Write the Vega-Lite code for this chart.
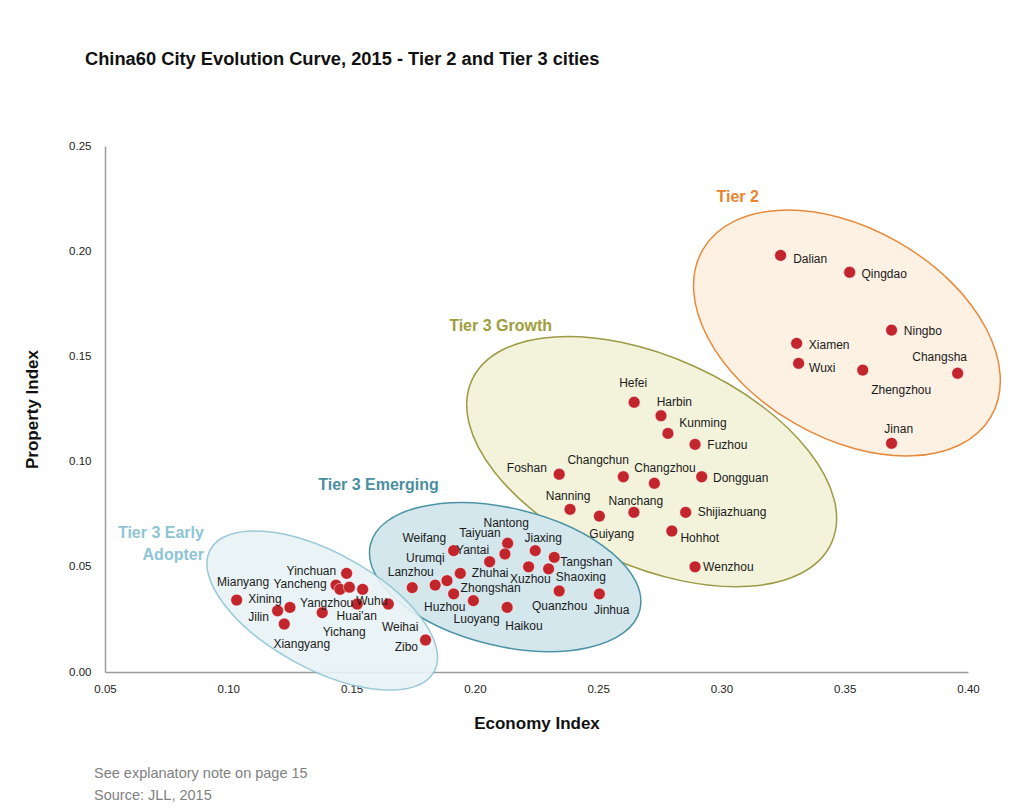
{
  "$schema": "https://vega.github.io/schema/vega-lite/v6.json",
  "background": "white",
  "padding": {"left": 23, "top": 49, "right": 10, "bottom": 5},
  "title": {
    "text": "China60 City Evolution Curve, 2015 - Tier 2 and Tier 3 cities",
    "anchor": "start",
    "frame": "group",
    "dx": -20,
    "offset": 71,
    "fontSize": 18.3,
    "fontWeight": "bold",
    "color": "#111111",
    "font": "Liberation Sans"
  },
  "datasets": {
    "tiers": [
      {"tier": "Tier 2", "label": "Tier 2", "cx": 0.3509, "cy": 0.1611, "lx": 0.3152, "ly": 0.2256},
      {"tier": "Tier 3 Growth", "label": "Tier 3 Growth", "cx": 0.2717, "cy": 0.1000, "lx": 0.2313, "ly": 0.1644},
      {"tier": "Tier 3 Emerging", "label": "Tier 3 Emerging", "cx": 0.2123, "cy": 0.0451, "lx": 0.1854, "ly": 0.0889},
      {"tier": "Tier 3 Early Adopter", "label": "Tier 3 Early\nAdopter", "cx": 0.1381, "cy": 0.0292, "lx": 0.0901, "ly": 0.0662}
    ],
    "cities": [
      {"tier": "Tier 2", "city": "Dalian", "x": 0.324, "y": 0.198, "lx": 0.336, "ly": 0.1963},
      {"tier": "Tier 2", "city": "Qingdao", "x": 0.352, "y": 0.190, "lx": 0.366, "ly": 0.189},
      {"tier": "Tier 2", "city": "Ningbo", "x": 0.369, "y": 0.1625, "lx": 0.3817, "ly": 0.1621},
      {"tier": "Tier 2", "city": "Xiamen", "x": 0.3305, "y": 0.1562, "lx": 0.3437, "ly": 0.1554},
      {"tier": "Tier 2", "city": "Wuxi", "x": 0.3313, "y": 0.1467, "lx": 0.3409, "ly": 0.1446},
      {"tier": "Tier 2", "city": "Zhengzhou", "x": 0.3573, "y": 0.1435, "lx": 0.3729, "ly": 0.134},
      {"tier": "Tier 2", "city": "Changsha", "x": 0.3958, "y": 0.142, "lx": 0.3885, "ly": 0.1499},
      {"tier": "Tier 2", "city": "Jinan", "x": 0.369, "y": 0.1087, "lx": 0.3719, "ly": 0.1155},
      {"tier": "Tier 3 Growth", "city": "Hefei", "x": 0.2646, "y": 0.1282, "lx": 0.2642, "ly": 0.1375},
      {"tier": "Tier 3 Growth", "city": "Harbin", "x": 0.2755, "y": 0.1218, "lx": 0.2809, "ly": 0.1285},
      {"tier": "Tier 3 Growth", "city": "Kunming", "x": 0.2783, "y": 0.1134, "lx": 0.2925, "ly": 0.1182},
      {"tier": "Tier 3 Growth", "city": "Fuzhou", "x": 0.2893, "y": 0.1082, "lx": 0.3024, "ly": 0.1079},
      {"tier": "Tier 3 Growth", "city": "Foshan", "x": 0.2342, "y": 0.094, "lx": 0.2211, "ly": 0.0968},
      {"tier": "Tier 3 Growth", "city": "Changchun", "x": 0.2602, "y": 0.0928, "lx": 0.25, "ly": 0.1008},
      {"tier": "Tier 3 Growth", "city": "Changzhou", "x": 0.2728, "y": 0.0897, "lx": 0.2771, "ly": 0.0968},
      {"tier": "Tier 3 Growth", "city": "Dongguan", "x": 0.292, "y": 0.0928, "lx": 0.3078, "ly": 0.0921},
      {"tier": "Tier 3 Growth", "city": "Nanning", "x": 0.2386, "y": 0.0773, "lx": 0.2378, "ly": 0.0837},
      {"tier": "Tier 3 Growth", "city": "Guiyang", "x": 0.2505, "y": 0.0741, "lx": 0.2555, "ly": 0.0656},
      {"tier": "Tier 3 Growth", "city": "Nanchang", "x": 0.2645, "y": 0.0759, "lx": 0.2653, "ly": 0.0814},
      {"tier": "Tier 3 Growth", "city": "Shijiazhuang", "x": 0.2855, "y": 0.0759, "lx": 0.3043, "ly": 0.0759},
      {"tier": "Tier 3 Growth", "city": "Hohhot", "x": 0.2799, "y": 0.067, "lx": 0.2912, "ly": 0.0638},
      {"tier": "Tier 3 Growth", "city": "Wenzhou", "x": 0.2893, "y": 0.05, "lx": 0.3028, "ly": 0.05},
      {"tier": "Tier 3 Emerging", "city": "Nantong", "x": 0.2133, "y": 0.0612, "lx": 0.2127, "ly": 0.071},
      {"tier": "Tier 3 Emerging", "city": "Taiyuan", "x": 0.2122, "y": 0.0561, "lx": 0.2021, "ly": 0.0659},
      {"tier": "Tier 3 Emerging", "city": "Weifang", "x": 0.1914, "y": 0.0577, "lx": 0.1795, "ly": 0.0635},
      {"tier": "Tier 3 Emerging", "city": "Yantai", "x": 0.206, "y": 0.0524, "lx": 0.1991, "ly": 0.058},
      {"tier": "Tier 3 Emerging", "city": "Jiaxing", "x": 0.2245, "y": 0.0577, "lx": 0.2277, "ly": 0.0635},
      {"tier": "Tier 3 Emerging", "city": "Tangshan", "x": 0.2322, "y": 0.0545, "lx": 0.2452, "ly": 0.0521},
      {"tier": "Tier 3 Emerging", "city": "Xuzhou", "x": 0.2218, "y": 0.05, "lx": 0.2225, "ly": 0.0441},
      {"tier": "Tier 3 Emerging", "city": "Shaoxing", "x": 0.2299, "y": 0.049, "lx": 0.243, "ly": 0.045},
      {"tier": "Tier 3 Emerging", "city": "Zhuhai", "x": 0.1941, "y": 0.0469, "lx": 0.2062, "ly": 0.0472},
      {"tier": "Tier 3 Emerging", "city": "Urumqi", "x": 0.1887, "y": 0.0434, "lx": 0.1799, "ly": 0.0542},
      {"tier": "Tier 3 Emerging", "city": "Huzhou", "x": 0.1839, "y": 0.0413, "lx": 0.1878, "ly": 0.031},
      {"tier": "Tier 3 Emerging", "city": "Lanzhou", "x": 0.1746, "y": 0.0401, "lx": 0.174, "ly": 0.0477},
      {"tier": "Tier 3 Emerging", "city": "Zhongshan", "x": 0.1914, "y": 0.0371, "lx": 0.2064, "ly": 0.0398},
      {"tier": "Tier 3 Emerging", "city": "Luoyang", "x": 0.1994, "y": 0.0339, "lx": 0.2007, "ly": 0.025},
      {"tier": "Tier 3 Emerging", "city": "Haikou", "x": 0.2131, "y": 0.0307, "lx": 0.2199, "ly": 0.0219},
      {"tier": "Tier 3 Emerging", "city": "Quanzhou", "x": 0.2342, "y": 0.0385, "lx": 0.2344, "ly": 0.0314},
      {"tier": "Tier 3 Emerging", "city": "Jinhua", "x": 0.2505, "y": 0.0371, "lx": 0.2555, "ly": 0.0295},
      {"tier": "Tier 3 Early Adopter", "city": "Mianyang", "x": 0.1034, "y": 0.0342, "lx": 0.106, "ly": 0.0429},
      {"tier": "Tier 3 Early Adopter", "city": "Xining", "x": 0.125, "y": 0.0307, "lx": 0.1149, "ly": 0.0346},
      {"tier": "Tier 3 Early Adopter", "city": "Jilin", "x": 0.12, "y": 0.0291, "lx": 0.1123, "ly": 0.0263},
      {"tier": "Tier 3 Early Adopter", "city": "Xiangyang", "x": 0.1227, "y": 0.0228, "lx": 0.1298, "ly": 0.0133},
      {"tier": "Tier 3 Early Adopter", "city": "Yichang", "x": 0.1381, "y": 0.0282, "lx": 0.147, "ly": 0.0192},
      {"tier": "Tier 3 Early Adopter", "city": "Yinchuan", "x": 0.148, "y": 0.0469, "lx": 0.1337, "ly": 0.0481},
      {"tier": "Tier 3 Early Adopter", "city": "Yancheng", "x": 0.1437, "y": 0.0413, "lx": 0.1291, "ly": 0.0417},
      {"tier": "Tier 3 Early Adopter", "city": "", "x": 0.1453, "y": 0.0393, "lx": 0.1453, "ly": 0.0393},
      {"tier": "Tier 3 Early Adopter", "city": "Yangzhou", "x": 0.1491, "y": 0.0403, "lx": 0.1399, "ly": 0.0327},
      {"tier": "Tier 3 Early Adopter", "city": "Wuhu", "x": 0.1545, "y": 0.0393, "lx": 0.1582, "ly": 0.0339},
      {"tier": "Tier 3 Early Adopter", "city": "Huai'an", "x": 0.1523, "y": 0.0323, "lx": 0.1521, "ly": 0.0266},
      {"tier": "Tier 3 Early Adopter", "city": "Weihai", "x": 0.1649, "y": 0.0323, "lx": 0.1697, "ly": 0.0215},
      {"tier": "Tier 3 Early Adopter", "city": "Zibo", "x": 0.18, "y": 0.0152, "lx": 0.1722, "ly": 0.012}
    ]
  },
  "vconcat": [
    {
      "width": 863,
      "height": 526,
      "title": {
        "text": ["See explanatory note on page 15", "Source: JLL, 2015"],
        "orient": "bottom",
        "anchor": "start",
        "frame": "group",
        "dx": -11,
        "offset": 35,
        "fontSize": 14.5,
        "fontWeight": "normal",
        "color": "#808080",
        "lineHeight": 22,
        "font": "Liberation Sans"
      },
      "layer": [
        {
          "data": {"name": "tiers"},
          "transform": [{"filter": "datum.tier === 'Tier 2'"}],
          "mark": {"type": "point", "shape": "M -1 0 A 1 0.627 0 1 1 1 0 A 1 0.627 0 1 1 -1 0 Z", "size": 110920, "angle": 30, "filled": true, "fill": "#FDF1E4", "stroke": "#E8893A", "strokeWidth": 1.5, "opacity": 1},
          "encoding": {
            "x": {"field": "cx", "type": "quantitative", "title": "Economy Index", "scale": {"domain": [0.05, 0.4], "nice": false, "zero": false},
                  "axis": {"values": [0.05, 0.1, 0.15, 0.2, 0.25, 0.3, 0.35, 0.4], "format": ".2f", "labelPadding": 11, "titlePadding": 21, "labelFlush": false}},
            "y": {"field": "cy", "type": "quantitative", "title": "Property Index", "scale": {"domain": [0, 0.25], "nice": false, "zero": false},
                  "axis": {"values": [0, 0.05, 0.1, 0.15, 0.2, 0.25], "format": ".2f", "labelPadding": 14, "titlePadding": 27, "labelFlush": false}}
          }
        },
        {
          "data": {"name": "tiers"},
          "transform": [{"filter": "datum.tier === 'Tier 3 Growth'"}],
          "mark": {"type": "point", "shape": "M -1 0 A 1 0.529 0 1 1 1 0 A 1 0.529 0 1 1 -1 0 Z", "size": 155804, "angle": 24.3, "filled": true, "fill": "#F3F3DB", "stroke": "#9C9A45", "strokeWidth": 1.5, "opacity": 1},
          "encoding": {
            "x": {"field": "cx", "type": "quantitative", "title": "Economy Index", "scale": {"domain": [0.05, 0.4], "nice": false, "zero": false}},
            "y": {"field": "cy", "type": "quantitative", "title": "Property Index", "scale": {"domain": [0, 0.25], "nice": false, "zero": false}}
          }
        },
        {
          "data": {"name": "tiers"},
          "transform": [{"filter": "datum.tier === 'Tier 3 Emerging'"}],
          "mark": {"type": "point", "shape": "M -1 0 A 1 0.497 0 1 1 1 0 A 1 0.497 0 1 1 -1 0 Z", "size": 76844, "angle": 13.6, "filled": true, "fill": "#D4E7ED", "stroke": "#4C93A6", "strokeWidth": 1.5, "opacity": 1},
          "encoding": {
            "x": {"field": "cx", "type": "quantitative", "title": "Economy Index", "scale": {"domain": [0.05, 0.4], "nice": false, "zero": false}},
            "y": {"field": "cy", "type": "quantitative", "title": "Property Index", "scale": {"domain": [0, 0.25], "nice": false, "zero": false}}
          }
        },
        {
          "data": {"name": "tiers"},
          "transform": [{"filter": "datum.tier === 'Tier 3 Early Adopter'"}],
          "mark": {"type": "point", "shape": "M -1 0 A 1 0.456 0 1 1 1 0 A 1 0.456 0 1 1 -1 0 Z", "size": 64940, "angle": 28.6, "filled": true, "fill": "#E8F3F6", "stroke": "#8FC4D3", "strokeWidth": 1.5, "opacity": 0.9},
          "encoding": {
            "x": {"field": "cx", "type": "quantitative", "title": "Economy Index", "scale": {"domain": [0.05, 0.4], "nice": false, "zero": false}},
            "y": {"field": "cy", "type": "quantitative", "title": "Property Index", "scale": {"domain": [0, 0.25], "nice": false, "zero": false}}
          }
        },
        {
          "data": {"name": "cities"},
          "mark": {"type": "circle", "size": 140, "color": "#C3252D", "opacity": 1, "stroke": "#ffffff", "strokeWidth": 0.5},
          "encoding": {
            "x": {"field": "x", "type": "quantitative", "title": "Economy Index", "scale": {"domain": [0.05, 0.4], "nice": false, "zero": false}},
            "y": {"field": "y", "type": "quantitative", "title": "Property Index", "scale": {"domain": [0, 0.25], "nice": false, "zero": false}}
          }
        },
        {
          "data": {"name": "cities"},
          "mark": {"type": "text", "fontSize": 12, "color": "#1a1a1a", "align": "center", "baseline": "middle", "font": "Liberation Sans"},
          "encoding": {
            "x": {"field": "lx", "type": "quantitative", "title": "Economy Index", "scale": {"domain": [0.05, 0.4], "nice": false, "zero": false}},
            "y": {"field": "ly", "type": "quantitative", "title": "Property Index", "scale": {"domain": [0, 0.25], "nice": false, "zero": false}},
            "text": {"field": "city"}
          }
        },
        {
          "data": {"name": "tiers"},
          "mark": {"type": "text", "fontSize": 16, "fontWeight": "bold", "align": "right", "baseline": "middle", "lineBreak": "\n", "lineHeight": 22, "font": "Liberation Sans"},
          "encoding": {
            "x": {"field": "lx", "type": "quantitative", "title": "Economy Index", "scale": {"domain": [0.05, 0.4], "nice": false, "zero": false}},
            "y": {"field": "ly", "type": "quantitative", "title": "Property Index", "scale": {"domain": [0, 0.25], "nice": false, "zero": false}},
            "text": {"field": "label"},
            "color": {"field": "tier", "type": "nominal", "legend": null,
                      "scale": {"domain": ["Tier 2", "Tier 3 Growth", "Tier 3 Emerging", "Tier 3 Early Adopter"], "range": ["#E8832E", "#A09D3C", "#4A8FA1", "#8EC4D4"]}}
          }
        }
      ]
    }
  ],
  "config": {
    "font": "Liberation Sans",
    "view": {"stroke": null},
    "axis": {
      "grid": false,
      "ticks": false,
      "domainColor": "#9b9b9b",
      "domainWidth": 1.5,
      "labelFontSize": 11.5,
      "labelColor": "#222222",
      "labelFont": "Liberation Sans",
      "titleFont": "Liberation Sans",
      "titleFontSize": 17,
      "titleFontWeight": "bold",
      "titleColor": "#111111"
    }
  }
}
